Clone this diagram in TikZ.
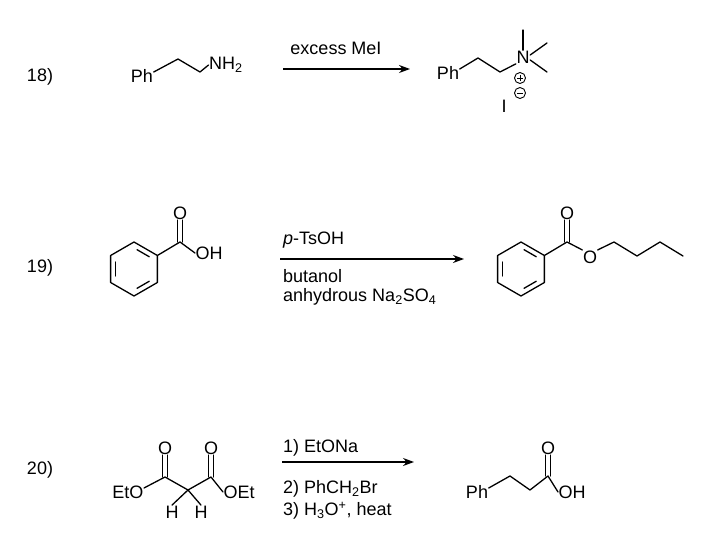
\documentclass[tikz,border=0pt]{standalone}
\usepackage{fontspec}
\setmainfont{Liberation Sans}
\usetikzlibrary{arrows.meta,calc}
\tikzset{bd/.style={line width=1.3pt,line cap=round,line join=round},
 inb/.style={bd,shorten >=3.5pt,shorten <=3.5pt},
 lab/.style={inner sep=0pt,font=\fontsize{18}{20}\selectfont},
 at0/.style={inner sep=0.5pt,font=\fontsize{18}{20}\selectfont},
 rx/.style={inner sep=0pt,anchor=west,font=\fontsize{18}{20}\selectfont},
 chg/.style={draw,circle,line width=0.9pt,minimum size=11pt,inner sep=0pt},
 arr/.style={line width=1.1pt,-{Stealth[length=11pt,width=8pt]}}}
\begin{document}
\begin{tikzpicture}[x=1pt,y=-1pt]
\useasboundingbox (0,0) rectangle (715,559);
% 18
\node[lab] (n18) at (40,77) {18)};
\node[at0] (ph1) at (142,76) {Ph};
\coordinate (a1) at (178,59); \coordinate (a2) at (200,72);
\node[at0] (nh2) at (226,65) {NH\textsubscript{2}};
\draw[bd] (ph1.east) ++(0,-4) -- (a1) -- (a2) -- (nh2.west);
\coordinate (r18s) at (283,69); \coordinate (r18e) at (410,69);
\draw[arr] (r18s) -- (r18e);
\node[lab] (c18) at (336,48) {excess MeI};
\node[at0] (ph2) at (448,73) {Ph};
\coordinate (b1) at (478,58); \coordinate (b2) at (500,72);
\node[at0] (nq) at (523,57) {N};
\draw[bd] (ph2.east) ++(0,-4) -- (b1) -- (b2) -- (nq.south west);
\coordinate (m1) at (523,30); \coordinate (m2) at (547,43); \coordinate (m3) at (547,72);
\draw[bd] (nq.north) -- (m1); \draw[bd] (nq.east) ++(0,-2) -- (m2); \draw[bd] (nq.east) ++(0,3) -- (m3);
\node[chg] (pl) at (520,78) {};
\draw[line width=0.9pt] ($(pl)+(-3,0)$) -- ($(pl)+(3,0)$) ($(pl)+(0,-3)$) -- ($(pl)+(0,3)$);
\node[lab] (iod) at (504,106) {I};
\node[chg] (mi) at (520,93) {};
\draw[line width=0.9pt] ($(mi)+(-3,0)$) -- ($(mi)+(3,0)$);
% 19
\node[lab] (n19) at (40,268) {19)};
\coordinate (C1) at (134,269);
\foreach \i/\ang in {1/270,2/210,3/150,4/90,5/30,6/330}
  \coordinate (r\i) at ($(C1)+(\ang:27)$);
\draw[bd] (r1)--(r2)--(r3)--(r4)--(r5)--(r6)--cycle;
\draw[inb] ($(C1)!0.78!(r2)$) -- ($(C1)!0.78!(r3)$);
\draw[inb] ($(C1)!0.78!(r4)$) -- ($(C1)!0.78!(r5)$);
\draw[inb] ($(C1)!0.78!(r6)$) -- ($(C1)!0.78!(r1)$);
\coordinate (k1) at (180,242);
\node[at0] (o1) at (180,213) {O};
\node[at0,anchor=west] (oh) at (195,253) {OH};
\draw[bd] (r6) -- (k1) -- (oh.west);
\draw[bd] ($(k1)+(-2.5,0)$) -- ($(o1.south)+(-2.5,0)$);
\draw[bd] ($(k1)+(2.5,0)$) -- ($(o1.south)+(2.5,0)$);
\coordinate (r19s) at (280,259); \coordinate (r19e) at (464,259);
\draw[arr] (r19s) -- (r19e);
\node[rx] (c19a) at (283,240) {\emph{p}-TsOH};
\node[rx] (c19b) at (283,276) {butanol};
\node[rx] (c19c) at (283,297) {anhydrous Na\textsubscript{2}SO\textsubscript{4}};
\coordinate (C2) at (521,269);
\foreach \i/\ang in {1/270,2/210,3/150,4/90,5/30,6/330}
  \coordinate (s\i) at ($(C2)+(\ang:27)$);
\draw[bd] (s1)--(s2)--(s3)--(s4)--(s5)--(s6)--cycle;
\draw[inb] ($(C2)!0.78!(s2)$) -- ($(C2)!0.78!(s3)$);
\draw[inb] ($(C2)!0.78!(s4)$) -- ($(C2)!0.78!(s5)$);
\draw[inb] ($(C2)!0.78!(s6)$) -- ($(C2)!0.78!(s1)$);
\coordinate (k2) at (567,242);
\node[at0] (o2) at (567,213) {O};
\node[at0] (oe) at (590,257) {O};
\coordinate (e1) at (614,242); \coordinate (e2) at (637,256);
\coordinate (e3) at (660,242); \coordinate (e4) at (683,256);
\draw[bd] (s6) -- (k2) -- (oe.north west);
\draw[bd] (oe.north east) -- (e1) -- (e2) -- (e3) -- (e4);
\draw[bd] ($(k2)+(-2.5,0)$) -- ($(o2.south)+(-2.5,0)$);
\draw[bd] ($(k2)+(2.5,0)$) -- ($(o2.south)+(2.5,0)$);
% 20
\node[lab] (n20) at (40,470) {20)};
\node[at0,anchor=east] (eto) at (144,492) {EtO};
\coordinate (c1) at (165,477); \coordinate (ch) at (188,490); \coordinate (c2) at (211,477);
\node[at0] (o3) at (165,448) {O};
\node[at0] (o4) at (211,448) {O};
\node[at0,anchor=west] (oet) at (223,492) {OEt};
\node[at0] (h1) at (172,512) {H};
\node[at0] (h2) at (201,512) {H};
\draw[bd] (eto.east) ++(0,-4) -- (c1) -- (ch) -- (c2) -- (oet.west);
\draw[bd] (ch) -- (h1.north); \draw[bd] (ch) -- (h2.north);
\foreach \c/\o in {c1/o3,c2/o4}{
 \draw[bd] ($(\c)+(-2.5,0)$) -- ($(\o.south)+(-2.5,0)$);
 \draw[bd] ($(\c)+(2.5,0)$) -- ($(\o.south)+(2.5,0)$);}
\coordinate (r20s) at (282,462); \coordinate (r20e) at (414,462);
\draw[arr] (r20s) -- (r20e);
\node[rx] (c20a) at (283,448) {1) EtONa};
\node[rx] (c20b) at (283,489) {2) PhCH\textsubscript{2}Br};
\node[rx] (c20c) at (283,511) {3) H\textsubscript{3}O\textsuperscript{+}, heat};
\node[at0] (ph3) at (477,492) {Ph};
\coordinate (d1) at (510,476); \coordinate (d2) at (530,490); \coordinate (d3) at (548,476);
\node[at0] (o5) at (548,448) {O};
\node[at0,anchor=west] (oh2) at (558,492) {OH};
\draw[bd] (ph3.east) ++(0,-4) -- (d1) -- (d2) -- (d3) -- (oh2.west);
\draw[bd] ($(d3)+(-2.5,0)$) -- ($(o5.south)+(-2.5,0)$);
\draw[bd] ($(d3)+(2.5,0)$) -- ($(o5.south)+(2.5,0)$);
\end{tikzpicture}
\end{document}
